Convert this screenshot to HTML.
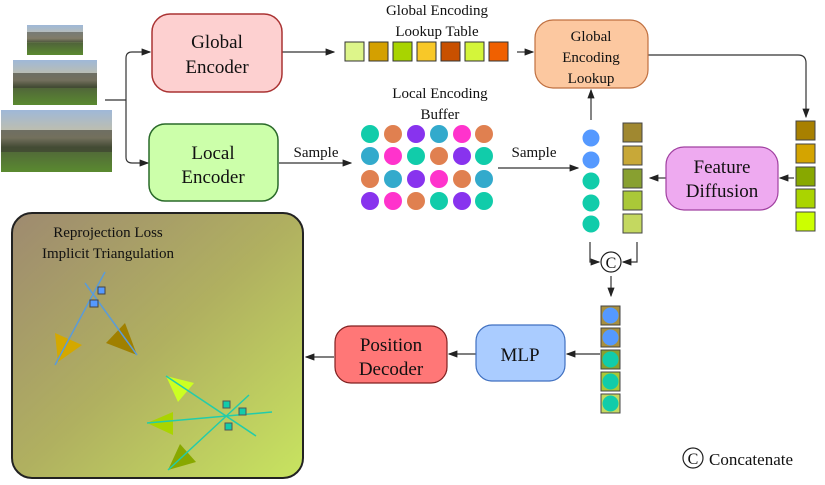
<!DOCTYPE html>
<html><head><style>html,body{margin:0;padding:0;background:#fff}svg{display:block}text{font-family:"Liberation Serif",serif;fill:#111}</style></head><body>
<svg width="825" height="485" viewBox="0 0 825 485" xmlns="http://www.w3.org/2000/svg">
<defs>
<marker id="a" markerWidth="8" markerHeight="6" refX="7" refY="3" orient="auto"><path d="M0,0 L8,3 L0,6z" fill="#222"/></marker>
<linearGradient id="g" x1="0" y1="0" x2="1" y2="1"><stop offset="0" stop-color="#9e8a70"/><stop offset="0.5" stop-color="#b0b060"/><stop offset="1" stop-color="#c8e460"/></linearGradient>
<linearGradient id="sky" x1="0" y1="0" x2="0" y2="1"><stop offset="0" stop-color="#9fb8d8"/><stop offset="0.45" stop-color="#c8c0a0"/><stop offset="0.6" stop-color="#50643a"/><stop offset="1" stop-color="#5a8a30"/></linearGradient>
</defs>
<!-- photos -->
<rect x="27" y="25" width="56" height="30" fill="url(#sky)"/>
<rect x="13" y="60" width="84" height="45" fill="url(#sky)"/>
<rect x="1" y="110" width="111" height="62" fill="url(#sky)"/>
<rect x="1" y="130" width="111" height="22" fill="#3a3a30" opacity="0.6"/>
<rect x="13" y="73" width="84" height="15" fill="#3a3a30" opacity="0.6"/>
<rect x="27" y="32" width="56" height="10" fill="#3a3a30" opacity="0.5"/>
<g stroke="#333" stroke-width="1.2" fill="none">
<path d="M105,100 H126"/>
<path d="M126,100 V58 Q126,52 132,52 H150" marker-end="url(#a)"/>
<path d="M126,100 V157 Q126,163 132,163 H148" marker-end="url(#a)"/>
<path d="M282,52 H334" marker-end="url(#a)"/>
<path d="M517,52 H533" marker-end="url(#a)"/>
<path d="M648,55 H798 Q806,55 806,63 V117" marker-end="url(#a)"/>
<path d="M794,178 H780" marker-end="url(#a)"/>
<path d="M666,178 H650" marker-end="url(#a)"/>
<path d="M591,120 V90" marker-end="url(#a)"/>
<path d="M279,163 H351" marker-end="url(#a)"/>
<path d="M498,168 H578" marker-end="url(#a)"/>
<path d="M590,242 V262 H599" marker-end="url(#a)"/>
<path d="M637,242 V262 H623" marker-end="url(#a)"/>
<path d="M611,276 V296" marker-end="url(#a)"/>
<path d="M600,354 H567" marker-end="url(#a)"/>
<path d="M476,354 H449" marker-end="url(#a)"/>
<path d="M334,357 H306" marker-end="url(#a)"/>
</g>
<rect x="152" y="14" width="130" height="78" rx="18" fill="#fdd0d0" stroke="#a33" stroke-width="1.5"/>
<text x="217" y="48" font-size="19" text-anchor="middle">Global</text>
<text x="217" y="73" font-size="19" text-anchor="middle">Encoder</text>
<rect x="149" y="124" width="129" height="77" rx="16" fill="#ccffaa" stroke="#2a6a2a" stroke-width="1.5"/>
<text x="213" y="159" font-size="19" text-anchor="middle">Local</text>
<text x="213" y="183" font-size="19" text-anchor="middle">Encoder</text>
<text x="437" y="15" font-size="15" text-anchor="middle">Global Encoding</text>
<text x="437" y="36" font-size="15" text-anchor="middle">Lookup  Table</text>
<g stroke="#333" stroke-width="1">
<rect x="345" y="42" width="19" height="19" fill="#ddf58a"/>
<rect x="369" y="42" width="19" height="19" fill="#d4a000"/>
<rect x="393" y="42" width="19" height="19" fill="#a8d400"/>
<rect x="417" y="42" width="19" height="19" fill="#f8c828"/>
<rect x="441" y="42" width="19" height="19" fill="#c85000"/>
<rect x="465" y="42" width="19" height="19" fill="#d4f53a"/>
<rect x="489" y="42" width="19" height="19" fill="#f06000"/>
</g>
<rect x="535" y="20" width="113" height="68" rx="18" fill="#fcc8a0" stroke="#c07040" stroke-width="1.2"/>
<text x="591" y="41" font-size="15" text-anchor="middle">Global</text>
<text x="591" y="62" font-size="15" text-anchor="middle">Encoding</text>
<text x="591" y="83" font-size="15" text-anchor="middle">Lookup</text>
<text x="440" y="98" font-size="15" text-anchor="middle">Local Encoding</text>
<text x="440" y="119" font-size="15" text-anchor="middle">Buffer</text>
<text x="316" y="157" font-size="15" text-anchor="middle">Sample</text>
<text x="534" y="157" font-size="15" text-anchor="middle">Sample</text>
<g>
<circle cx="370" cy="134" r="9" fill="#11ccaa"/><circle cx="393" cy="134" r="9" fill="#e08050"/><circle cx="416" cy="134" r="9" fill="#8833ee"/><circle cx="439" cy="134" r="9" fill="#33aacc"/><circle cx="462" cy="134" r="9" fill="#ff33cc"/><circle cx="484" cy="134" r="9" fill="#e08050"/>
<circle cx="370" cy="156" r="9" fill="#33aacc"/><circle cx="393" cy="156" r="9" fill="#ff33cc"/><circle cx="416" cy="156" r="9" fill="#11ccaa"/><circle cx="439" cy="156" r="9" fill="#e08050"/><circle cx="462" cy="156" r="9" fill="#8833ee"/><circle cx="484" cy="156" r="9" fill="#11ccaa"/>
<circle cx="370" cy="179" r="9" fill="#e08050"/><circle cx="393" cy="179" r="9" fill="#33aacc"/><circle cx="416" cy="179" r="9" fill="#8833ee"/><circle cx="439" cy="179" r="9" fill="#ff33cc"/><circle cx="462" cy="179" r="9" fill="#e08050"/><circle cx="484" cy="179" r="9" fill="#33aacc"/>
<circle cx="370" cy="201" r="9" fill="#8833ee"/><circle cx="393" cy="201" r="9" fill="#ff33cc"/><circle cx="416" cy="201" r="9" fill="#e08050"/><circle cx="439" cy="201" r="9" fill="#11ccaa"/><circle cx="462" cy="201" r="9" fill="#8833ee"/><circle cx="484" cy="201" r="9" fill="#11ccaa"/>
</g>
<circle cx="591" cy="138" r="8.5" fill="#5599ff"/><circle cx="591" cy="160" r="8.5" fill="#5599ff"/><circle cx="591" cy="181" r="8.5" fill="#11ccaa"/><circle cx="591" cy="203" r="8.5" fill="#11ccaa"/><circle cx="591" cy="224" r="8.5" fill="#11ccaa"/>
<g stroke="#444" stroke-width="1">
<rect x="623" y="123" width="19" height="19" fill="#a08830"/><rect x="623" y="146" width="19" height="19" fill="#c8a838"/><rect x="623" y="169" width="19" height="19" fill="#88a030"/><rect x="623" y="191" width="19" height="19" fill="#aac838"/><rect x="623" y="214" width="19" height="19" fill="#c4d860"/>
<rect x="796" y="121" width="19" height="19" fill="#a88000"/><rect x="796" y="144" width="19" height="19" fill="#d4a400"/><rect x="796" y="167" width="19" height="19" fill="#88a800"/><rect x="796" y="189" width="19" height="19" fill="#aad400"/><rect x="796" y="212" width="19" height="19" fill="#ccff00"/>
</g>
<rect x="666" y="147" width="112" height="63" rx="18" fill="#eeaaf0" stroke="#a040a0" stroke-width="1.2"/>
<text x="722" y="173" font-size="19" text-anchor="middle">Feature</text>
<text x="722" y="197" font-size="19" text-anchor="middle">Diffusion</text>
<circle cx="611" cy="262" r="10" fill="#fff" stroke="#222" stroke-width="1.2"/>
<text x="611" y="268" font-size="16" text-anchor="middle">C</text>
<g stroke="#444" stroke-width="1">
<rect x="601" y="306" width="19" height="19" fill="#a89040"/><rect x="601" y="328" width="19" height="19" fill="#a89040"/><rect x="601" y="350" width="19" height="19" fill="#88a030"/><rect x="601" y="372" width="19" height="19" fill="#aac838"/><rect x="601" y="394" width="19" height="19" fill="#c4d860"/>
</g>
<circle cx="610.5" cy="315.5" r="8" fill="#5599ff"/><circle cx="610.5" cy="337.5" r="8" fill="#5599ff"/><circle cx="610.5" cy="359.5" r="8" fill="#11ccaa"/><circle cx="610.5" cy="381.5" r="8" fill="#11ccaa"/><circle cx="610.5" cy="403.5" r="8" fill="#11ccaa"/>
<rect x="476" y="325" width="89" height="56" rx="16" fill="#aaccff" stroke="#4070c0" stroke-width="1.2"/>
<text x="520" y="361" font-size="19" text-anchor="middle">MLP</text>
<rect x="335" y="326" width="112" height="57" rx="16" fill="#f77" stroke="#802020" stroke-width="1.2"/>
<text x="391" y="351" font-size="19" text-anchor="middle">Position</text>
<text x="391" y="375" font-size="19" text-anchor="middle">Decoder</text>
<rect x="12" y="213" width="291" height="265" rx="20" fill="url(#g)" stroke="#222" stroke-width="2"/>
<text x="108" y="237" font-size="15" text-anchor="middle">Reprojection Loss</text>
<text x="108" y="258" font-size="15" text-anchor="middle">Implicit Triangulation</text>
<polygon points="55,333 82,345 58,362" fill="#d4a800"/>
<polygon points="125,323 106,343 137,355" fill="#a08000"/>
<g stroke="#5b9bd8" stroke-width="1.5"><line x1="105" y1="272" x2="55" y2="365"/><line x1="85" y1="283" x2="137" y2="355"/></g>
<rect x="98" y="287" width="7" height="7" fill="#5599ff" stroke="#444"/><rect x="90" y="300" width="8" height="7" fill="#5599ff" stroke="#444"/>
<polygon points="166,376 194,383 178,402" fill="#ccff22"/>
<polygon points="147,423 173,412 173,435" fill="#aad400"/>
<polygon points="168,470 180,444 196,462" fill="#88a800"/>
<g stroke="#22ccaa" stroke-width="1.5"><line x1="166" y1="376" x2="256" y2="436"/><line x1="147" y1="423" x2="272" y2="412"/><line x1="249" y1="395" x2="168" y2="470"/></g>
<rect x="223" y="401" width="7" height="7" fill="#11ccaa" stroke="#555"/><rect x="239" y="408" width="7" height="7" fill="#11ccaa" stroke="#555"/><rect x="225" y="423" width="7" height="7" fill="#11ccaa" stroke="#555"/>
<circle cx="693" cy="458" r="10" fill="#fff" stroke="#222" stroke-width="1.2"/>
<text x="693" y="464" font-size="16" text-anchor="middle">C</text>
<text x="709" y="465" font-size="17">Concatenate</text>
</svg>
</body></html>
